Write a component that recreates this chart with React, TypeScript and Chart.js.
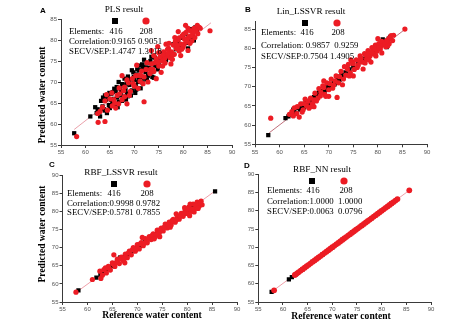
import { useEffect, useRef } from "react";
import { Chart, registerables } from "chart.js";
Chart.register(...registerables);

type P = [number, number];

// ---------- tick labels ----------
const X_TICKS = [55, 60, 65, 70, 75, 80, 85, 90];
const Y_TICKS_AB = [55, 60, 65, 70, 75, 80, 85];
const Y_TICKS_CD = [55, 60, 65, 70, 75, 80, 85, 90];

// ---------- texts ----------
const ELEMENTS_LABEL = "Elements:";
const ELEMENTS_COUNTS = ["416", "208"];
const Y_TITLE = "Predicted water content";
const X_TITLE = "Reference water content";

const A_TITLE = "PLS result";
const A_CORR = "Correlation:0.9165 0.9051";
const A_SECV = "SECV/SEP:1.4747 1.3118";
const B_TITLE = "Lin_LSSVR result";
const B_CORR = "Correlation: 0.9857  0.9259";
const B_SECV = "SECV/SEP:0.7504 1.4905";
const C_TITLE = "RBF_LSSVR result";
const C_CORR = "Correlation:0.9998 0.9782";
const C_SECV = "SECV/SEP:0.5781 0.7855";
const D_TITLE = "RBF_NN result";
const D_CORR = "Correlation:1.0000  1.0000";
const D_SECV = "SECV/SEP:0.0063  0.0796";

// ---------- data: [reference, predicted] ----------
const A_CAL: P[] = [
  [57.7, 57.8], [61.0, 61.8], [62.0, 64.0], [62.5, 63.5], [63.0, 61.8], [63.2, 65.5], [63.5, 64.2], [64.0, 63.2],
  [64.2, 65.8], [64.5, 66.5], [64.8, 64.5], [65.0, 63.8], [65.3, 67.2], [65.5, 65.2], [65.8, 66.0], [66.0, 64.6],
  [66.2, 67.8], [66.5, 66.3], [66.8, 65.3], [67.0, 68.5], [67.2, 67.0], [67.5, 69.5], [67.8, 66.5], [68.0, 70.8],
  [68.2, 68.2], [68.5, 67.3], [68.7, 71.3], [69.0, 69.3], [69.2, 70.6], [69.5, 68.0], [69.8, 72.3], [70.0, 70.5],
  [70.3, 69.2], [70.5, 71.8], [70.8, 70.0], [71.0, 72.8], [71.3, 68.5], [71.5, 71.2], [71.8, 73.5], [72.0, 70.8],
  [72.3, 72.4], [72.5, 74.4], [72.8, 71.5], [73.0, 73.3], [73.3, 75.0], [73.5, 72.3], [73.8, 74.2], [74.0, 71.0],
  [74.3, 73.8], [74.6, 75.3], [75.0, 74.0], [76.0, 76.8], [77.0, 76.5], [78.5, 77.8], [79.0, 79.5], [80.0, 80.5],
  [80.5, 81.5], [81.0, 78.0], [81.2, 82.5], [81.5, 80.2], [82.0, 81.0], [82.5, 83.0], [82.8, 82.2], [80.8, 79.3],
  [79.5, 78.6], [78.0, 79.0], [66.8, 70.0], [69.5, 72.8], [70.6, 73.0], [64.0, 66.8], [67.5, 65.5], [72.0, 75.3],
  [73.5, 76.0], [70.2, 67.4], [68.7, 66.6], [63.8, 63.5], [65.6, 67.6], [66.4, 68.8], [62.8, 62.8], [71.6, 74.2],
  [62.3, 62.6], [63.6, 66.3], [64.4, 62.6], [65.2, 65.8], [65.9, 68.4], [66.6, 64.0], [67.3, 67.8], [67.9, 69.2],
  [68.3, 65.8], [68.9, 70.2], [69.3, 66.8], [69.9, 71.2], [70.4, 68.2], [71.1, 73.9], [71.7, 69.8], [72.2, 73.4],
  [72.6, 70.6], [73.1, 74.5], [73.7, 71.2], [74.2, 75.8], [74.8, 73.0], [75.5, 75.8], [76.5, 75.2], [81.8, 82.6],
  [82.2, 79.9], [64.9, 67.4], [66.9, 66.8], [70.9, 71.0], [68.4, 69.6],
];
const A_VAL: P[] = [
  [58.2, 57.0], [62.6, 60.4], [64.0, 60.6], [62.5, 62.5], [63.5, 64.0], [64.0, 65.5], [64.5, 63.3], [65.0, 66.0],
  [65.5, 64.3], [65.8, 65.8], [66.2, 63.8], [66.5, 66.8], [66.8, 64.8], [67.0, 67.2], [67.5, 65.8], [68.0, 66.5],
  [68.0, 68.8], [68.5, 64.8], [68.8, 69.8], [69.2, 67.8], [69.6, 70.8], [70.0, 69.0], [70.3, 71.5], [70.8, 68.5],
  [71.2, 70.2], [71.5, 72.6], [72.0, 71.2], [72.4, 73.0], [72.8, 70.0], [73.2, 72.0], [73.5, 74.3], [74.0, 72.5],
  [74.5, 70.8], [74.5, 75.5], [75.0, 73.8], [75.3, 76.0], [75.7, 75.0], [76.0, 77.2], [76.3, 74.5], [76.7, 76.3],
  [77.0, 78.0], [77.3, 75.8], [77.6, 77.2], [78.0, 78.8], [78.2, 76.6], [78.6, 78.0], [78.9, 80.0], [79.2, 77.4],
  [79.5, 79.0], [79.8, 81.0], [80.0, 78.3], [80.3, 80.2], [80.6, 81.8], [80.8, 79.6], [81.2, 80.8], [81.5, 82.2],
  [81.8, 79.8], [82.0, 81.6], [82.4, 80.6], [82.7, 82.5], [83.0, 81.5], [85.5, 82.2], [79.0, 82.0], [76.5, 79.0],
  [74.8, 78.4], [73.5, 77.5], [72.0, 65.3], [67.5, 71.5], [70.5, 74.0], [77.5, 74.3], [79.5, 76.3], [81.0, 77.5],
  [83.3, 83.0], [80.5, 83.5], [75.5, 72.3], [68.5, 70.5], [76.8, 77.8], [78.4, 79.6], [80.2, 79.0], [79.0, 78.0],
  [81.6, 81.0], [77.8, 76.4], [75.9, 76.4], [74.2, 74.6], [82.2, 82.8], [80.9, 80.4],
  [63.0, 63.0], [64.3, 67.0], [65.4, 67.4], [66.0, 65.0], [66.9, 68.6], [67.8, 67.9], [69.0, 66.8], [69.8, 69.6],
  [70.9, 71.6], [71.8, 69.6], [72.6, 74.6], [73.8, 73.0], [74.0, 76.3], [75.0, 77.0], [75.8, 73.8], [76.2, 75.6],
  [77.1, 79.2], [77.8, 75.4], [78.3, 80.6], [79.2, 80.5], [79.7, 77.8], [80.1, 81.4], [81.0, 82.8], [81.4, 79.2],
  [82.2, 82.0], [82.9, 83.5], [80.7, 80.0], [78.7, 78.7], [76.9, 76.8], [74.9, 74.8], [73.3, 73.0], [71.4, 71.5],
  [83.5, 82.8],
];
const A_FIT: P[] = [[57.7, 58.7], [85.7, 84.1]];

const B_CAL: P[] = [
  [57.7, 57.4], [61.2, 61.8], [61.8, 62.3], [62.5, 62.8], [63.0, 63.6], [63.4, 62.9], [63.8, 64.4], [64.2, 64.0],
  [64.6, 65.0], [65.0, 64.6], [65.4, 65.8], [65.8, 65.4], [66.2, 66.5], [66.6, 66.1], [67.0, 67.3], [67.4, 66.8],
  [67.8, 68.1], [68.2, 67.8], [68.6, 68.9], [69.0, 68.5], [69.4, 69.8], [69.8, 69.4], [70.2, 70.6], [70.6, 70.2],
  [71.0, 71.4], [71.4, 71.0], [71.8, 72.2], [72.2, 71.8], [72.6, 73.0], [73.0, 72.5], [73.4, 73.7], [73.8, 73.3],
  [74.2, 74.5], [75.0, 75.2], [76.0, 76.2], [77.0, 77.3], [78.0, 78.1], [79.0, 79.3], [80.0, 80.3], [80.5, 80.8],
  [81.0, 82.3], [81.3, 81.0], [81.8, 80.3], [82.2, 82.5], [82.5, 83.0], [64.8, 65.5], [66.0, 65.7], [68.0, 68.5],
  [70.0, 69.9], [72.0, 72.6], [69.2, 69.0], [71.2, 70.6], [65.2, 65.0], [63.2, 63.0], [62.8, 64.0],
];
const B_VAL: P[] = [
  [58.2, 61.8], [62.0, 62.8], [62.5, 63.5], [63.0, 64.5], [63.5, 63.0], [64.0, 62.1], [64.3, 65.5], [64.8, 64.0],
  [65.2, 66.8], [65.5, 65.0], [66.0, 64.4], [66.3, 67.0], [66.7, 65.6], [67.2, 68.3], [67.5, 66.3], [68.0, 69.5],
  [68.3, 67.6], [68.8, 70.2], [69.2, 68.0], [69.6, 71.0], [70.0, 69.2], [70.5, 72.0], [71.0, 70.4], [71.5, 72.8],
  [71.7, 67.2], [72.0, 71.0], [72.5, 74.0], [73.0, 72.0], [73.2, 75.2], [73.5, 73.0], [74.0, 75.8], [74.4, 73.6],
  [74.8, 76.5], [75.2, 74.5], [75.6, 77.0], [76.0, 75.6], [76.4, 78.0], [76.8, 76.4], [77.0, 74.6], [77.3, 78.6],
  [77.7, 77.2], [78.0, 79.4], [78.4, 78.0], [78.8, 80.2], [79.2, 78.5], [79.5, 80.8], [79.8, 79.2], [80.2, 81.2],
  [80.5, 79.8], [80.8, 78.8], [81.2, 81.5], [81.6, 80.4], [82.0, 82.2], [82.3, 81.2], [82.7, 83.3], [83.0, 82.0],
  [85.5, 85.0], [70.0, 67.5], [72.8, 70.5], [67.0, 64.8], [75.0, 72.8], [78.6, 76.4], [80.0, 82.5], [69.0, 71.5],
  [74.5, 77.0], [79.0, 80.0], [80.6, 80.6], [77.6, 78.2], [76.2, 76.8], [81.8, 82.0], [78.2, 77.0], [79.6, 78.0],
  [62.8, 62.4], [63.6, 64.8], [64.6, 63.4], [65.0, 65.6], [65.8, 66.2], [66.5, 64.9], [67.0, 66.6], [67.8, 67.0],
  [68.4, 68.6], [69.0, 69.8], [69.4, 67.5], [70.2, 70.8], [70.8, 69.6], [71.3, 71.5], [72.2, 72.6], [73.8, 74.6],
  [74.2, 72.8], [75.0, 76.0], [75.8, 75.0], [76.6, 77.4], [77.4, 76.2], [78.0, 78.4], [78.8, 79.0], [79.4, 79.8],
  [80.2, 80.2], [80.8, 81.8], [81.4, 81.0], [82.4, 82.8], [83.2, 83.4], [82.0, 80.6],
];
const B_FIT: P[] = [[57.9, 58.0], [85.9, 85.3]];

const C_CAL: P[] = [
  [58.2, 58.2], [61.8, 61.7], [62.6, 62.4], [63.0, 63.1], [63.5, 63.4], [64.0, 64.1], [64.5, 64.5], [65.0, 64.9],
  [65.5, 65.6], [66.0, 66.0], [66.6, 67.3], [67.0, 67.0], [67.5, 67.5], [68.0, 68.1], [68.5, 68.4], [69.0, 69.0],
  [69.5, 69.6], [70.0, 70.0], [70.5, 70.4], [71.0, 71.1], [71.5, 71.5], [72.0, 72.0], [72.5, 72.6], [73.0, 73.0],
  [73.5, 73.4], [74.0, 74.1], [74.5, 74.5], [75.0, 75.0], [75.5, 75.6], [76.0, 76.0], [76.5, 76.4], [77.0, 77.1],
  [77.5, 77.4], [78.0, 78.0], [78.5, 78.6], [79.0, 79.0], [79.5, 79.5], [80.0, 80.1], [80.5, 80.4], [81.0, 81.0],
  [81.5, 81.6], [82.0, 82.0], [82.5, 82.4], [85.6, 85.5],
];
const C_VAL: P[] = [
  [57.7, 57.7], [61.0, 61.2], [62.5, 63.5], [62.7, 61.5], [63.0, 62.4], [63.3, 63.9], [63.8, 63.0], [64.2, 64.8],
  [64.6, 63.8], [65.0, 65.8], [65.3, 68.0], [65.5, 64.8], [66.0, 66.8], [66.4, 65.6], [66.8, 67.4], [67.2, 66.4],
  [67.6, 68.2], [68.0, 67.2], [68.4, 69.0], [68.8, 68.0], [69.2, 70.0], [69.6, 69.0], [70.0, 70.8], [70.4, 69.6],
  [70.8, 71.4], [71.2, 70.5], [71.6, 72.5], [72.0, 71.3], [72.4, 73.0], [72.8, 72.2], [73.2, 73.8], [73.6, 73.0],
  [74.0, 74.8], [74.4, 74.0], [74.8, 75.4], [75.2, 74.6], [75.6, 76.5], [76.0, 75.4], [76.4, 77.0], [76.8, 76.2],
  [77.2, 77.8], [77.6, 77.0], [78.0, 78.7], [78.4, 77.8], [78.8, 79.4], [79.2, 78.6], [79.6, 80.3], [80.0, 79.4],
  [80.4, 81.2], [80.8, 80.0], [81.2, 82.0], [81.6, 80.8], [82.0, 82.5], [82.4, 81.4], [82.8, 82.8], [83.0, 81.8],
  [79.5, 81.0], [74.5, 73.0], [67.5, 65.8], [71.0, 72.8], [77.8, 79.3], [80.5, 78.8],
  [63.6, 64.4], [64.4, 64.2], [65.2, 65.4], [65.8, 65.9], [66.6, 66.9], [67.4, 67.0], [68.2, 68.5], [69.0, 69.4],
  [69.8, 69.6], [70.6, 71.0], [71.4, 71.2], [72.2, 72.4], [73.0, 73.4], [73.8, 73.6], [74.6, 74.9], [75.4, 75.6],
  [76.2, 76.2], [77.0, 77.4], [77.8, 77.6], [78.6, 78.8], [79.4, 79.4], [80.2, 80.6], [81.0, 80.6], [81.8, 81.6],
  [82.6, 82.2], [80.6, 82.0], [81.4, 79.8], [82.2, 80.8], [76.6, 75.6], [73.4, 72.4],
];
const C_FIT: P[] = [[57.7, 57.6], [85.6, 85.6]];

const D_CAL: P[] = [
  [57.7, 57.8], [61.2, 61.2], [61.8, 61.8], [62.6, 62.6], [63.0, 63.0], [64.0, 64.0], [66.0, 66.0], [68.0, 68.0],
  [70.0, 70.0], [72.0, 72.0], [74.0, 74.0], [76.0, 76.0], [78.0, 78.0], [80.0, 80.0], [82.0, 82.0],
];
const D_VAL: P[] = [
  [58.2, 58.2], [62.4, 62.4], [62.8, 62.8], [63.2, 63.2], [63.6, 63.6], [64.0, 64.0], [64.4, 64.4], [64.8, 64.8],
  [65.2, 65.2], [65.6, 65.6], [66.0, 66.0], [66.4, 66.4], [66.8, 66.8], [67.2, 67.2], [67.6, 67.6], [68.0, 68.0],
  [68.4, 68.4], [68.8, 68.8], [69.2, 69.2], [69.6, 69.6], [70.0, 70.0], [70.4, 70.4], [70.8, 70.8], [71.2, 71.2],
  [71.6, 71.6], [72.0, 72.0], [72.4, 72.4], [72.8, 72.8], [73.2, 73.2], [73.6, 73.6], [74.0, 74.0], [74.4, 74.4],
  [74.8, 74.8], [75.2, 75.2], [75.6, 75.6], [76.0, 76.0], [76.4, 76.4], [76.8, 76.8], [77.2, 77.2], [77.6, 77.6],
  [78.0, 78.0], [78.4, 78.4], [78.8, 78.8], [79.2, 79.2], [79.6, 79.6], [80.0, 80.0], [80.4, 80.4], [80.8, 80.8],
  [81.2, 81.2], [81.6, 81.6], [82.0, 82.0], [82.4, 82.4], [82.8, 82.8], [83.2, 83.2], [85.6, 85.6],
];
const D_FIT: P[] = [[57.7, 57.8], [85.6, 85.6]];

// ---------- styles / layout ----------
const W = 474;
const H = 331;
const RED = "#ec1c24";
const AXIS = "#3a3a3a";
const TICK = "#555555";
const SERIF = '"Liberation Serif", "Times New Roman", serif';
const SANS = '"Liberation Sans", Arial, sans-serif';

type Panel = {
  letter: string; title: string; corr: string; secv: string;
  cal: P[]; val: P[]; fit: P[]; fitColor: string; redR: number;
  yMax: number; yTicks: number[];
  area: { l: number; r: number; t: number; b: number };
  letterPos: P; titlePos: P; sq: P; circ: P; textX: number; rows: number[]; numX: number[];
  yTitle: P | null; xTitle: P | null;
};

const PANELS: Panel[] = [
  {
    letter: "A", title: A_TITLE, corr: A_CORR, secv: A_SECV, cal: A_CAL, val: A_VAL, fit: A_FIT, fitColor: "#eaa0aa", redR: 2.6,
    yMax: 85, yTicks: Y_TICKS_AB, area: { l: 61, r: 232, t: 19, b: 145 },
    letterPos: [43, 11], titlePos: [124, 10], sq: [115, 21], circ: [146, 21], textX: 69, rows: [32, 42, 52], numX: [116, 146],
    yTitle: [43, 95], xTitle: null,
  },
  {
    letter: "B", title: B_TITLE, corr: B_CORR, secv: B_SECV, cal: B_CAL, val: B_VAL, fit: B_FIT, fitColor: "#c0707c", redR: 2.6,
    yMax: 87, yTicks: Y_TICKS_AB, area: { l: 255, r: 427, t: 21.4, b: 144.3 },
    letterPos: [248, 10], titlePos: [311, 12], sq: [305, 23], circ: [337, 23], textX: 261, rows: [33, 45.5, 56.5], numX: [307, 338],
    yTitle: null, xTitle: null,
  },
  {
    letter: "C", title: C_TITLE, corr: C_CORR, secv: C_SECV, cal: C_CAL, val: C_VAL, fit: C_FIT, fitColor: "#f0a0aa", redR: 2.6,
    yMax: 90, yTicks: Y_TICKS_CD, area: { l: 62.5, r: 237, t: 175, b: 302 },
    letterPos: [52, 165], titlePos: [121, 173], sq: [114, 184], circ: [147, 184], textX: 67, rows: [194, 203.5, 213], numX: [114, 147],
    yTitle: [43, 234], xTitle: [152, 316],
  },
  {
    letter: "D", title: D_TITLE, corr: D_CORR, secv: D_SECV, cal: D_CAL, val: D_VAL, fit: D_FIT, fitColor: "#f0a0aa", redR: 2.9,
    yMax: 90, yTicks: Y_TICKS_CD, area: { l: 258.3, r: 431, t: 174.3, b: 302 },
    letterPos: [247, 166], titlePos: [322, 170], sq: [312, 181], circ: [344, 181], textX: 267, rows: [191, 201.5, 211.5], numX: [313, 346],
    yTitle: null, xTitle: [341, 317],
  },
];

function textPlugin(p: Panel) {
  return {
    id: "panelText" + p.letter,
    afterDraw(chart: any) {
      const ctx: CanvasRenderingContext2D = chart.ctx;
      ctx.save();
      ctx.textBaseline = "middle";
      ctx.fillStyle = "#000";
      ctx.font = `bold 8px ${SANS}`;
      ctx.textAlign = "center";
      ctx.fillText(p.letter, p.letterPos[0], p.letterPos[1]);
      ctx.font = `9.2px ${SERIF}`;
      ctx.fillText(p.title, p.titlePos[0], p.titlePos[1]);
      ctx.fillRect(p.sq[0] - 3, p.sq[1] - 3, 6, 6);
      ctx.fillStyle = RED;
      ctx.beginPath();
      ctx.arc(p.circ[0], p.circ[1], 3.6, 0, Math.PI * 2);
      ctx.fill();
      ctx.fillStyle = "#000";
      ctx.font = `8.8px ${SERIF}`;
      ctx.fillText(ELEMENTS_COUNTS[0], p.numX[0], p.rows[0]);
      ctx.fillText(ELEMENTS_COUNTS[1], p.numX[1], p.rows[0]);
      ctx.textAlign = "left";
      ctx.fillText(ELEMENTS_LABEL, p.textX, p.rows[0]);
      ctx.fillText(p.corr, p.textX, p.rows[1]);
      ctx.fillText(p.secv, p.textX, p.rows[2]);
      ctx.textAlign = "center";
      if (p.xTitle) {
        ctx.font = `bold 9.6px ${SERIF}`;
        ctx.fillText(X_TITLE, p.xTitle[0], p.xTitle[1]);
      }
      if (p.yTitle) {
        ctx.translate(p.yTitle[0], p.yTitle[1]);
        ctx.rotate(-Math.PI / 2);
        ctx.font = `bold 9.5px ${SERIF}`;
        ctx.fillText(Y_TITLE, 0, 0);
      }
      ctx.restore();
    },
  };
}

function makeChart(canvas: HTMLCanvasElement, p: Panel) {
  const axisCommon = {
    type: "linear" as const,
    grid: { drawOnChartArea: false, drawTicks: true, tickLength: 3, color: AXIS, lineWidth: 1 },
    border: { display: true, color: AXIS, width: 1 },
    ticks: { font: { size: 6, family: SANS }, color: TICK, padding: 1, autoSkip: false, maxRotation: 0 },
  };
  return new Chart(canvas, {
    type: "scatter",
    data: {
      datasets: [
        {
          type: "line",
          data: p.fit.map(([x, y]) => ({ x, y })),
          borderColor: p.fitColor,
          borderWidth: 1,
          pointRadius: 0,
          fill: false,
          order: 3,
        } as any,
        {
          data: p.cal.map(([x, y]) => ({ x, y })),
          pointStyle: "rect",
          pointRadius: 3.0,
          backgroundColor: "#000",
          borderWidth: 0,
          order: 2,
        },
        {
          data: p.val.map(([x, y]) => ({ x, y })),
          pointStyle: "circle",
          pointRadius: p.redR,
          backgroundColor: RED,
          borderWidth: 0,
          order: 1,
        },
      ],
    },
    options: {
      responsive: false,
      animation: false,
      devicePixelRatio: 1,
      events: [],
      layout: {
        autoPadding: false,
        padding: { left: p.area.l - 30, right: W - p.area.r, top: p.area.t, bottom: H - p.area.b - 20 },
      },
      plugins: { legend: { display: false }, tooltip: { enabled: false } },
      scales: {
        x: {
          ...axisCommon,
          position: "bottom",
          min: 55,
          max: 90,
          afterBuildTicks: (s: any) => { s.ticks = X_TICKS.map((v) => ({ value: v })); },
          afterFit: (s: any) => { s.height = 20; },
        },
        y: {
          ...axisCommon,
          position: "left",
          min: 55,
          max: p.yMax,
          afterBuildTicks: (s: any) => { s.ticks = p.yTicks.map((v) => ({ value: v })); },
          afterFit: (s: any) => { s.width = 30; },
        },
      },
    } as any,
    plugins: [textPlugin(p)],
  });
}

function PanelCanvas({ p }: { p: Panel }) {
  const ref = useRef<HTMLCanvasElement>(null);
  useEffect(() => {
    if (!ref.current) return;
    const c = makeChart(ref.current, p);
    return () => c.destroy();
  }, [p]);
  return (
    <canvas
      ref={ref}
      width={W}
      height={H}
      style={{ position: "absolute", left: 0, top: 0, width: W, height: H }}
    />
  );
}

export default function App() {
  return (
    <div style={{ position: "absolute", left: 0, top: 0, width: W, height: H, background: "#fff", overflow: "hidden" }}>
      {PANELS.map((p) => (
        <PanelCanvas key={p.letter} p={p} />
      ))}
    </div>
  );
}
